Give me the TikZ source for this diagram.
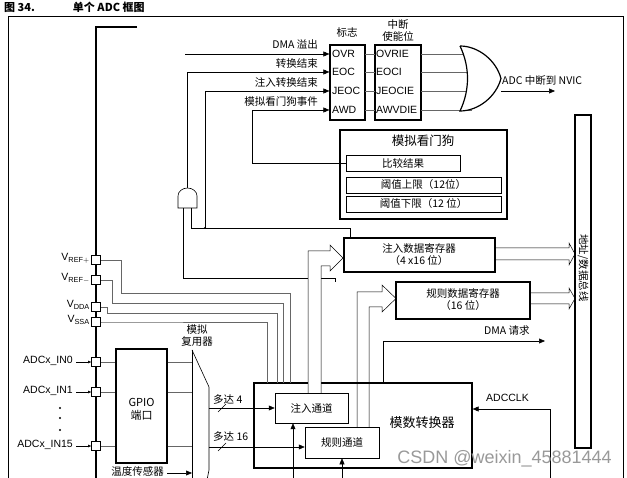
\documentclass[tikz,border=0pt]{standalone}
\usepackage{fontspec}
\setmainfont{Liberation Sans}
\newfontfamily\cjk{Noto Sans CJK SC}
\usetikzlibrary{arrows.meta,calc}
\begin{document}
\begin{tikzpicture}[x=1pt,y=-1pt,
  txt/.style={font=\cjk\fontsize{10.5}{12}\selectfont,inner sep=0pt,align=center},
  ftxt/.style={font=\fontsize{10.5}{12}\selectfont,inner sep=0pt},
  box/.style={draw,line width=1.2pt},
  thin/.style={draw,line width=0.5pt},
  gl/.style={draw=black!60,line width=0.6pt},
  sq/.style={draw,fill=white,line width=0.6pt,minimum size=9pt,inner sep=0pt},
  arr/.style={-{Triangle[length=6pt,width=5pt]},line width=0.5pt},
  sarr/.style={-{Triangle[length=3pt,width=2.5pt]},line width=0.5pt}]
\useasboundingbox (0,0) rectangle (627,478);
\begin{scope}
\clip (0,0) rectangle (627,478);
% title and frames
\node[txt,anchor=west,font=\cjk\bfseries\fontsize{11}{12}\selectfont] (title) at (4,7) {图 34.\hspace{38pt}单个 ADC 框图};
\draw[line width=0.6pt] (8,490) -- (8,16) -- (623,16) -- (623,490);
\draw[line width=1.2pt] (137,27) -- (96,27) -- (96,490);
% flags
\node[box,minimum width=35pt,minimum height=75pt,inner sep=0pt] (flag) at (347.5,82.5) {};
\node[box,minimum width=46pt,minimum height=75pt,inner sep=0pt] (ien) at (398,82.5) {};
\node[txt] (flt) at (347,33) {标志};
\node[txt] (ient) at (398,31) {中断\\使能位};
\foreach \n/\a/\b/\y in {1/OVR/OVRIE/54,2/EOC/EOCI/72,3/JEOC/JEOCIE/91,4/AWD/AWVDIE/110}{
  \node[ftxt,anchor=west] (f\n) at (332,\y) {\a};
  \node[ftxt,anchor=west] (e\n) at (376,\y) {\b};
  \draw[gl] (365,\y) -- (375,\y);
  \draw[gl] (421,\y) -- (472,\y);
}
% OR gate
\draw[line width=1.2pt,fill=white] (460,46) .. controls (478,46) and (496,60) .. (501,78.5) .. controls (496,97) and (478,111) .. (460,111) .. controls (470,90) and (470,67) .. (460,46);
\node[txt,anchor=west] (nvic) at (502,81) {ADC 中断到 NVIC};
\draw[arr] (501,91) -- (555,91);
% signal inputs
\node[txt,anchor=east] (dma) at (318,45) {DMA 溢出};
\node[txt,anchor=east] (eoc) at (318,64) {转换结束};
\node[txt,anchor=east] (jeoc) at (318,82) {注入转换结束};
\node[txt,anchor=east] (awd) at (318,102) {模拟看门狗事件};
\draw[arr] (185,54) -- (flag.west |- 0,54);
\draw[arr] (187,188) -- (187,72) -- (flag.west |- 0,72);
\draw[arr] (205,228) -- (205,91) -- (flag.west |- 0,91);
\draw[arr] (346,163) -- (252,163) -- (252,110) -- (flag.west |- 0,110);
% watchdog
\node[box,minimum width=167pt,minimum height=89pt,inner sep=0pt] (wd) at (423.5,174.5) {};
\node[txt,font=\cjk\fontsize{12.5}{13}\selectfont] (wdt) at (423,141) {模拟看门狗};
\node[thin,minimum width=114pt,minimum height=16pt,inner sep=0pt,txt,draw] (cmp) at (403,163) {比较结果};
\node[thin,minimum width=155pt,minimum height=16pt,inner sep=0pt,txt,draw] (hi) at (423.5,185) {阈值上限（12位）};
\node[thin,minimum width=155pt,minimum height=16pt,inner sep=0pt,txt,draw] (lo) at (423.5,204) {阈值下限（12 位）};
% AND gate
\draw[line width=0.6pt,fill=white] (178,208) -- (178,196) arc (180:360:9.5 and 8) -- (197,208) -- cycle;
\fill (205,228) circle (1.2pt);
\draw[line width=0.6pt] (191,208) -- (191,228) -- (350,228) -- (350,238);
\draw[line width=0.6pt] (183,208) -- (183,278) -- (335,278) -- (335,282);
% bus
\node[draw,line width=1.2pt,minimum width=16pt,minimum height=333pt,inner sep=0pt] (bus) at (583,281.5) {};
\node[txt,rotate=-90] (bust) at (583,268) {地址/数据总线};
% data registers
\node[box,minimum width=151pt,minimum height=34pt,inner sep=0pt] (jdr) at (419.5,255) {};
\node[txt] (jdrt) at (419,255) {注入数据寄存器\\（4 x16 位）};
\node[box,minimum width=134pt,minimum height=37pt,inner sep=0pt] (rdr) at (463,300.5) {};
\node[txt] (rdrt) at (463,300) {规则数据寄存器\\（16 位）};
% hollow arrows to bus
\draw[line width=0.5pt] (495,248) -- (569,248) -- (569,243) -- (575,254) -- (569,265) -- (569,260) -- (495,260);
\draw[line width=0.5pt] (530,293) -- (569,293) -- (569,288) -- (575,298.5) -- (569,309) -- (569,304) -- (530,304);
% ADC
\node[box,minimum width=218pt,minimum height=85pt,inner sep=0pt] (adc) at (363,425.5) {};
\node[txt,font=\cjk\fontsize{13}{14}\selectfont] (adct) at (422,423) {模数转换器};
\node[thin,draw,minimum width=73pt,minimum height=30pt,inner sep=0pt,txt] (inj) at (311.5,408) {注入通道};
\node[thin,draw,fill=white,minimum width=74pt,minimum height=31pt,inner sep=0pt,txt] (reg) at (342,442.5) {规则通道};
% hollow arrow inj -> jdr
\draw[line width=0.5pt,fill=white] (308,393) -- (308,251) -- (330,251) -- (330,245) -- (343,258) -- (330,271) -- (330,266) -- (321,266) -- (321,393);
% hollow arrow reg -> rdr
\draw[line width=0.5pt] (357,427) -- (357,292) -- (382,292) -- (382,285) -- (396,298.5) -- (382,312) -- (382,307) -- (369,307) -- (369,427);
% DMA request
\draw[arr] (383,383) -- (383,341) -- (545,341);
\node[txt,anchor=west] (dmar) at (484,331) {DMA 请求};
% ADCCLK
\draw[arr] (550,490) -- (550,409) -- (adc.east |- 0,409);
\node[ftxt,anchor=west] (clk) at (486,398) {ADCCLK};
% triggers from below
\draw[arr] (293,490) -- (inj.south -| 293,0);
\draw[arr] (342,490) -- (reg.south);
% supply pins
\foreach \n/\y/\xa/\ya/\xb/\lab in {rp/260/121/293/290/V$_{\mathrm{REF+}}$,rm/280/112/303/283/V$_{\mathrm{REF-}}$,dd/307/107/313/277/V$_{\mathrm{DDA}}$,ss/322/101/322/267/V$_{\mathrm{SSA}}$}{
  \node[sq] (\n) at (96,\y) {};
  \node[ftxt,anchor=east] (l\n) at (90,\y-2) {\lab};
  \draw[gl] (\n.east) -- (\xa,\y) -- (\xa,\ya) -- (\xb,\ya) -- (\xb,383);
}
% inputs
\node[draw,line width=1.2pt,minimum width=51pt,minimum height=114pt,inner sep=0pt] (gpio) at (141.5,406) {};
\node[txt,font=\cjk\fontsize{11}{13}\selectfont] (gpiot) at (141.5,409) {GPIO\\端口};
\foreach \n/\y/\lab in {i0/362/ADCx\_IN0,i1/392/ADCx\_IN1,i15/446/ADCx\_IN15}{
  \node[sq] (\n) at (96,\y) {};
  \node[ftxt,anchor=east] (l\n) at (73,\y-1) {\lab};
  \draw[sarr] (76,\y) -- (\n.west);
  \draw[gl] (\n.east) -- (gpio.west |- 0,\y);
  \draw[gl] (gpio.east |- 0,\y) -- (192,\y);
}
\foreach \y in {408,418,430} \fill (60,\y) circle (1.1pt);
% mux
\draw[line width=0.6pt] (192,350) -- (192,490);
\draw[line width=0.6pt] (192,350) -- (209,387) -- (209,470) -- (205,490);
\node[txt] (muxt) at (197,336) {模拟\\复用器};
\draw[-{Triangle[length=6pt,width=5pt]},line width=0.5pt] (209,408) -- (inj.west);
\draw[-{Triangle[length=6pt,width=5pt]},line width=0.5pt] (209,447) -- (reg.west |- 0,447);
\draw[line width=0.4pt] (218,412) -- (226,404) (218,451) -- (226,443);
\node[txt,anchor=west] (m4) at (213,400) {多达 4};
\node[txt,anchor=west] (m16) at (213,437) {多达 16};
\node[txt,anchor=east] (temp) at (164,471) {温度传感器};
\draw[arr] (167,473) -- (192,473);
% watermark
\node[txt,anchor=east,font=\fontsize{18}{19}\selectfont,text=black!40] (wm) at (612,459) {CSDN @weixin\_45881444};
\end{scope}
\end{tikzpicture}
\end{document}
